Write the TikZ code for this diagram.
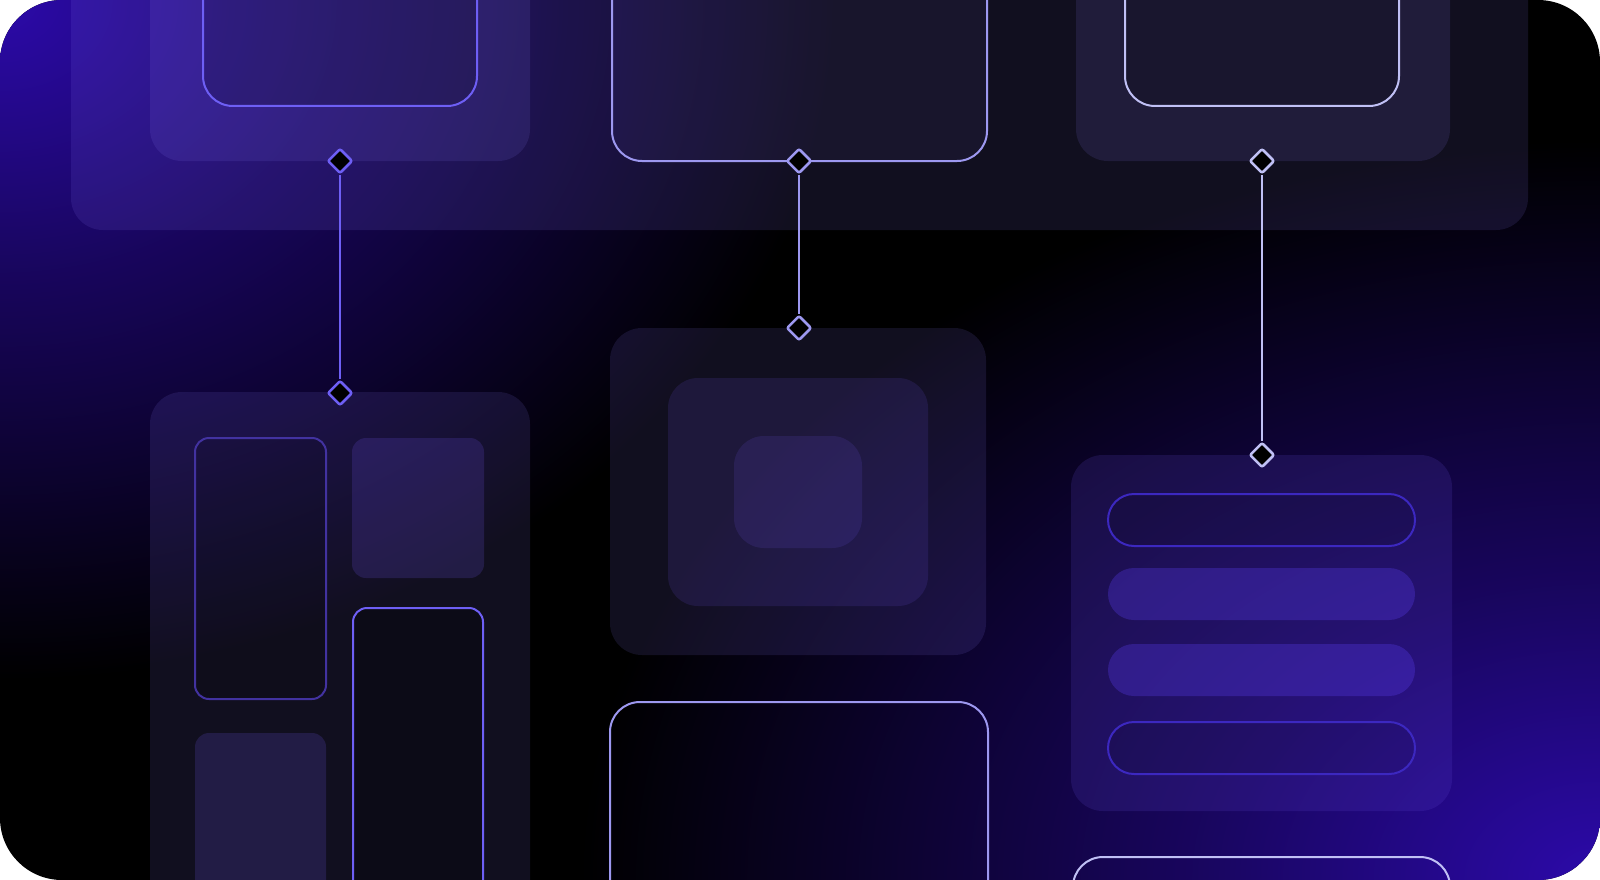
\documentclass[tikz,border=0pt]{standalone}
\usetikzlibrary{shapes.geometric}
\definecolor{bgpurple}{HTML}{2C0AAA}
\definecolor{glass}{HTML}{9080FF}
\definecolor{tint}{HTML}{6A50E0}
\definecolor{linea}{HTML}{6E5FF5}
\definecolor{lineb}{HTML}{9D98F0}
\definecolor{linec}{HTML}{C0C0F5}
\definecolor{lined}{HTML}{4232A0}
\definecolor{pillline}{HTML}{3C28C0}
\definecolor{pillfill}{HTML}{5A3DF0}
\pgfdeclareradialshading{cornerglow}{\pgfpoint{0bp}{0bp}}{color(0bp)=(bgpurple); color(10bp)=(bgpurple!55!black); color(25bp)=(black); color(50bp)=(black)}

\begin{document}
\begin{tikzpicture}
  [x=1pt,y=-1pt,
   panel/.style={rectangle,rounded corners=32pt,fill=glass,fill opacity=.12,inner sep=0pt},
   frame/.style={rectangle,rounded corners=30pt,draw=#1,line width=2pt,inner sep=0pt},
   tile/.style={rectangle,rounded corners=14pt,fill=tint,fill opacity=.2,inner sep=0pt},
   pill/.style={rectangle,rounded corners=26pt,minimum width=307pt,minimum height=52pt,inner sep=0pt},
   joint/.style={diamond,draw=#1,fill=black,line width=2.5pt,minimum width=25pt,minimum height=25pt,inner sep=0pt,rounded corners=2pt}]

  \useasboundingbox (0,0) rectangle (1600,880);
  \fill[white] (0,0) rectangle (1600,880);
  \begin{scope}
  \clip[rounded corners=62pt] (0,0) rectangle (1600,880);
  \fill[black] (0,0) rectangle (1600,880);
  \shade[shading=cornerglow] (0,0) ellipse (840 and 680);
  \shade[shading=cornerglow] (1600,880) ellipse (1020 and 740);

  % top row
  \node[panel,minimum width=1457pt,minimum height=330pt] (top) at (799.5,65) {};
  \node[panel,minimum width=380pt,minimum height=221pt] (tl) at (340,50.5) {};
  \node[frame=linea,fill=black,fill opacity=.15,minimum width=274pt,minimum height=146pt] (tlbox) at (340,33) {};
  \node[frame=lineb,fill=glass,fill opacity=.06,minimum width=375pt,minimum height=221pt] (tm) at (799.5,50.5) {};
  \node[panel,minimum width=374pt,minimum height=221pt] (tr) at (1263,50.5) {};
  \node[frame=linec,fill=black,fill opacity=.2,minimum width=274pt,minimum height=146pt] (trbox) at (1262,33) {};

  % left column
  \node[panel,minimum width=380pt,minimum height=608pt] (bl) at (340,696) {};
  \node[tile,draw=lined,line width=2pt,fill=black,fill opacity=.1,minimum width=131pt,minimum height=261pt] (bla) at (260.5,568.5) {};
  \node[tile,minimum width=132pt,minimum height=140pt] (blb) at (418,508) {};
  \node[tile,minimum width=131pt,minimum height=217pt] (blc) at (260.5,841.5) {};
  \node[tile,draw=linea,line width=2pt,fill=black,fill opacity=.25,minimum width=130pt,minimum height=342pt] (bld) at (418,779) {};

  % middle column
  \node[panel,minimum width=376pt,minimum height=327pt] (mid) at (798,491.5) {};
  \node[panel,rounded corners=30pt,fill=tint,fill opacity=.15,minimum width=260pt,minimum height=228pt] (midin) at (798,492) {};
  \node[panel,rounded corners=30pt,fill=tint,fill opacity=.15,minimum width=128pt,minimum height=112pt] (midcore) at (798,492) {};
  \node[frame=lineb,minimum width=378pt,minimum height=298pt] (bm) at (799,851) {};

  % right column
  \node[panel,fill=tint,fill opacity=.16,minimum width=381pt,minimum height=356pt] (rp) at (1261.5,633) {};
  \foreach \y/\n in {520/p1,748/p4}
    \node[pill,draw=pillline,line width=2pt,fill=black,fill opacity=.1] (\n) at (1261.5,\y) {};
  \foreach \y/\n in {594/p2,670/p3}
    \node[pill,fill=pillfill,fill opacity=.3] (\n) at (1261.5,\y) {};
  \node[frame=linec,minimum width=377pt,minimum height=243pt] (br) at (1261.5,978.5) {};

  % joints
  \node[joint=linea] (d1) at (340,161) {};
  \node[joint=lineb] (d2) at (799,161) {};
  \node[joint=linec] (d3) at (1262,161) {};
  \node[joint=linea] (e1) at (340,393) {};
  \node[joint=lineb] (e2) at (799,328) {};
  \node[joint=linec] (e3) at (1262,455) {};

  \foreach \from/\to/\col in {d1/e1/linea,d2/e2/lineb,d3/e3/linec}
    \draw[\col,line width=2.2pt] (\from) -- (\to);
  \end{scope}
\end{tikzpicture}
\end{document}
